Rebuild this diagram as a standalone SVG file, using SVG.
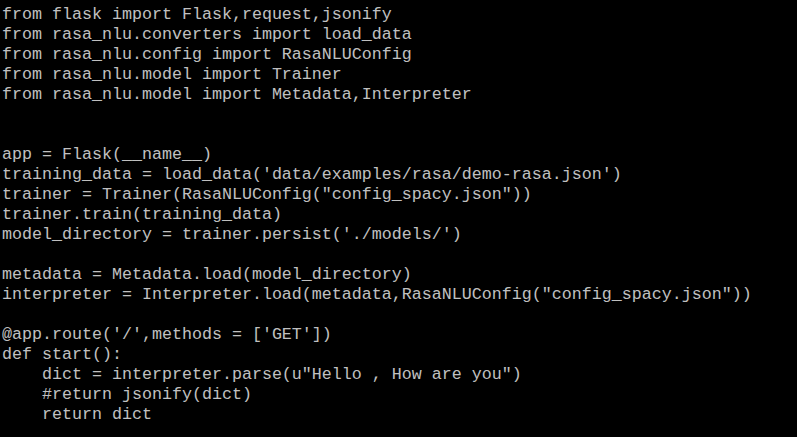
<svg xmlns="http://www.w3.org/2000/svg" width="797" height="437" viewBox="0 0 797 437">
<style>text{font-family:"Liberation Mono","Courier New",monospace;font-size:16.67px;fill:#c0c0c0;white-space:pre}</style>
<rect width="797" height="437" fill="#000"/>
<g id="code">
<text x="2" y="19">from flask import Flask,request,jsonify</text>
<text x="2" y="39">from rasa_nlu.converters import load_data</text>
<text x="2" y="59">from rasa_nlu.config import RasaNLUConfig</text>
<text x="2" y="79">from rasa_nlu.model import Trainer</text>
<text x="2" y="99">from rasa_nlu.model import Metadata,Interpreter</text>
<text x="2" y="159">app = Flask(__name__)</text>
<text x="2" y="179">training_data = load_data('data/examples/rasa/demo-rasa.json')</text>
<text x="2" y="199">trainer = Trainer(RasaNLUConfig("config_spacy.json"))</text>
<text x="2" y="219">trainer.train(training_data)</text>
<text x="2" y="239">model_directory = trainer.persist('./models/')</text>
<text x="2" y="279">metadata = Metadata.load(model_directory)</text>
<text x="2" y="299">interpreter = Interpreter.load(metadata,RasaNLUConfig("config_spacy.json"))</text>
<text x="2" y="339">@app.route('/',methods = ['GET'])</text>
<text x="2" y="359">def start():</text>
<text x="2" y="379">    dict = interpreter.parse(u"Hello , How are you")</text>
<text x="2" y="399">    #return jsonify(dict)</text>
<text x="2" y="419">    return dict</text>
</g>
</svg>
